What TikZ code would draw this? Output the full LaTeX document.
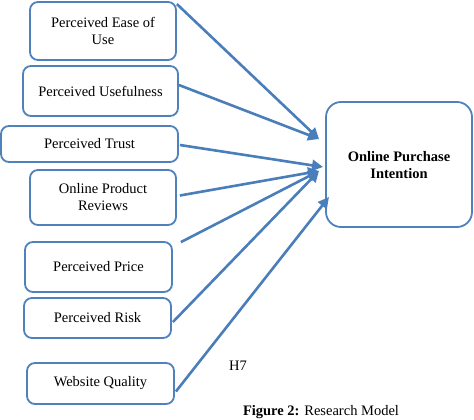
\documentclass[tikz,border=0pt]{standalone}
\usepackage{fontspec}
\setmainfont{Liberation Serif}
\usetikzlibrary{arrows.meta,calc}
\definecolor{bx}{HTML}{4F81BD}
\definecolor{ar}{HTML}{4A7EBB}
\tikzset{
  varbox/.style={draw=bx, line width=1.8pt, rounded corners=8pt, fill=white, align=center,
    font=\fontsize{14.5}{17}\selectfont, inner sep=0pt},
  tgtbox/.style={draw=bx, line width=1.8pt, rounded corners=15pt, fill=white, align=center,
    font=\fontsize{14.5}{17}\selectfont\bfseries, inner sep=0pt},
  link/.style={draw=ar, line width=2.6pt, -{Triangle[length=11pt,width=11pt]}, shorten >=0pt},
  plain/.style={font=\fontsize{14.5}{17}\selectfont, inner sep=0pt}
}
\begin{document}
\begin{tikzpicture}[x=1pt,y=-1pt]
\useasboundingbox (0,0) rectangle (474,420);
% target
\node[tgtbox, minimum width=146pt, minimum height=125pt] (tgt) at (399,164.5) {};
\node[plain, font=\fontsize{14.5}{17}\selectfont\bfseries, align=center] (tgttext) at (399,165) {Online Purchase\\Intention};
% variables
\node[varbox, minimum width=146pt, minimum height=58pt] (b1) at (103,31) {Perceived Ease of\\Use};
\node[varbox, minimum width=155pt, minimum height=50pt] (b2) at (100.5,91) {Perceived Usefulness};
\node[varbox, minimum width=177pt, minimum height=36pt] (b3) at (89.5,144) {Perceived Trust};
\node[varbox, minimum width=146pt, minimum height=55pt] (b4) at (103,197.5) {Online Product\\Reviews};
\node[varbox, minimum width=147pt, minimum height=50pt] (b5) at (98.5,267) {Perceived Price};
\node[varbox, minimum width=147pt, minimum height=40pt] (b6) at (97.5,318) {Perceived Risk};
\node[varbox, minimum width=147pt, minimum height=41pt] (b7) at (100.5,383.5) {Website Quality};
% arrow tips
\coordinate (t1) at (319,139);
\coordinate (t2) at (323,167);
\coordinate (t3) at (319,171);
\coordinate (t4) at (329,197);
% arrows
\draw[link] ($(b1.north east)+(0,3)$) -- (t1);
\draw[link] ($(b2.east)+(0,-6)$) -- (t1);
\draw[link] ($(b3.east)+(1,1)$) -- (t2);
\draw[link] ($(b4.east)+(3,-2)$) -- (t3);
\draw[link] ($(b5.north east)+(8,1)$) -- (t3);
\draw[link] ($(b6.east)+(1,4)$) -- (t3);
\draw[link] ($(b7.east)+(1,8)$) -- (t4);
% labels
\node[plain] (h7) at (238,366) {H7};
\node[plain] (cap) at (321,412) {\textbf{Figure 2:} Research Model};
\end{tikzpicture}
\end{document}
